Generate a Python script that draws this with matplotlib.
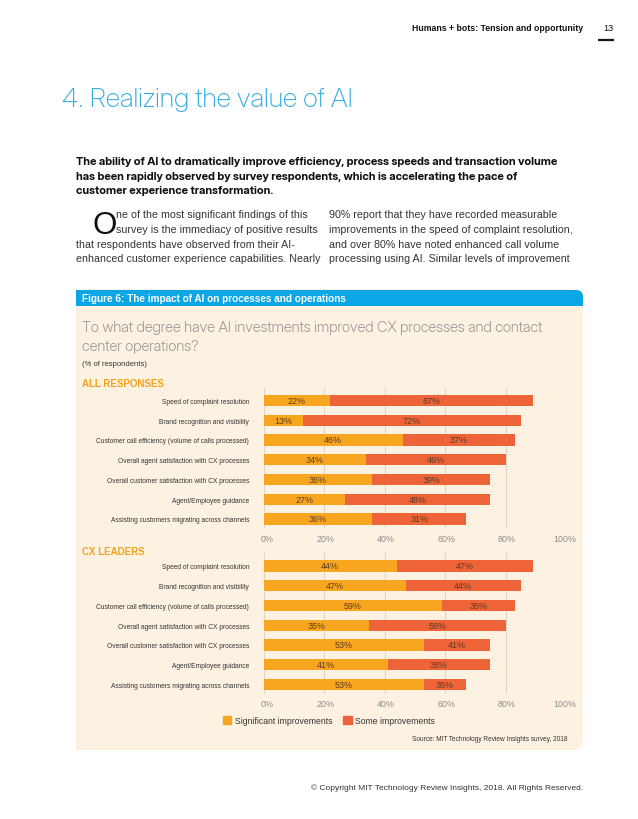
import matplotlib
matplotlib.use("Agg")
import matplotlib.pyplot as plt
import matplotlib.transforms as mtransforms
from matplotlib.patches import Rectangle, FancyBboxPatch
from matplotlib.patches import Patch

# ---------------- data ----------------
categories = [
    "Speed of complaint resolution",
    "Brand recognition and visibility",
    "Customer call efficiency (volume of calls processed)",
    "Overall agent satisfaction with CX processes",
    "Overall customer satisfaction with CX processes",
    "Agent/Employee guidance",
    "Assisting customers migrating across channels",
]
all_significant = [22, 13, 46, 34, 36, 27, 36]
all_some = [67, 72, 37, 46, 39, 48, 31]
cx_significant = [44, 47, 59, 35, 53, 41, 53]
cx_some = [47, 44, 35, 56, 41, 38, 35]            # printed labels
cx_some_drawn = [45, 38, 24, 45, 22, 34, 14]      # red bar lengths as drawn in the source
x_ticks = [0, 20, 40, 60, 80, 100]
x_tick_labels = ["0%", "20%", "40%", "60%", "80%", "100%"]
series_names = ["Significant improvements", "Some improvements"]

# ---------------- style ----------------
C_SIG = "#f8a61f"
C_SOME = "#ef6339"
C_CREAM = "#fdf2e2"
C_BLUE = "#0aa6e6"
C_TITLE = "#33ace0"
C_LABEL = "#5a3d25"
SANS = ["Liberation Sans", "DejaVu Sans"]
DISP = ["Inter Display", "Inter", "DejaVu Sans"]

W, H = 638, 820
fig = plt.figure(figsize=(W / 100, H / 100), dpi=100)
fig.patch.set_facecolor("white")

bg = fig.add_axes([0, 0, 1, 1])
bg.set_xlim(0, W)
bg.set_ylim(H, 0)
bg.axis("off")

# header
bg.text(583, 31, "Humans + bots: Tension and opportunity", ha="right", va="baseline",
        fontsize=6.3, fontweight="bold", family=SANS, color="#111111")
bg.text(613, 31, "13", ha="right", va="baseline", fontsize=6.6, family=SANS, color="#111111")
bg.plot([598, 614], [40.5, 40.5], color="#111111", lw=1.6, solid_capstyle="butt")

# title
bg.text(62, 107, "4. Realizing the value of AI", ha="left", va="baseline",
        fontsize=19.5, fontweight=200, family=DISP, color=C_TITLE)

# lead paragraph
lead = ["The ability of AI to dramatically improve efficiency, process speeds and transaction volume",
        "has been rapidly observed by survey respondents, which is accelerating the pace of",
        "customer experience transformation."]
for i, l in enumerate(lead):
    bg.text(76, 165 + i * 14.5, l, ha="left", va="baseline", fontsize=8.2,
            fontweight="bold", family=DISP, color="#111111")

# body columns
left_col = ["ne of the most significant findings of this",
            "survey is the immediacy of positive results",
            "that respondents have observed from their AI-",
            "enhanced customer experience capabilities. Nearly"]
right_col = ["90% report that they have recorded measurable",
             "improvements in the speed of complaint resolution,",
             "and over 80% have noted enhanced call volume",
             "processing using AI. Similar levels of improvement"]
bg.text(93, 233.5, "O", ha="left", va="baseline", fontsize=22.5, family=SANS, color="#111111")
for i, l in enumerate(left_col):
    x0 = 116.5 if i < 2 else 76
    bg.text(x0, 218.5 + i * 14.5, l, ha="left", va="baseline", fontsize=7.7, family=SANS, color="#333333")
for i, l in enumerate(right_col):
    bg.text(329, 218.5 + i * 14.5, l, ha="left", va="baseline", fontsize=7.7, family=SANS, color="#333333")

# figure panel: blue header with rounded top-right, cream body with rounded bottom-right
bg.add_patch(FancyBboxPatch((76, 290), 507, 461, boxstyle="round,pad=0,rounding_size=11",
                            fc=C_CREAM, ec="none", zorder=1.1))
bg.add_patch(Rectangle((76, 307), 507, 420, fc=C_CREAM, ec="none", zorder=1.2))
bg.add_patch(Rectangle((76, 307), 480, 444, fc=C_CREAM, ec="none", zorder=1.2))
bg.add_patch(FancyBboxPatch((76, 291), 507, 16, boxstyle="round,pad=0,rounding_size=7",
                            fc=C_BLUE, ec="none", zorder=1.25))
bg.add_patch(Rectangle((76, 291), 480, 16, fc=C_BLUE, ec="none", zorder=1.3))
bg.add_patch(Rectangle((560, 299), 23, 8, fc=C_BLUE, ec="none", zorder=1.3))

bg.text(82, 299.5, "Figure 6: The impact of AI on processes and operations", ha="left", va="center",
        fontsize=7.2, fontweight="bold", family=SANS, color="white", zorder=3)
bg.text(82, 332, "To what degree have AI investments improved CX processes and contact",
        ha="left", va="baseline", fontsize=10.7, fontweight=300, family=DISP, color="#9a9a9a", zorder=3)
bg.text(82, 351, "center operations?", ha="left", va="baseline", fontsize=10.7, fontweight=300,
        family=DISP, color="#9a9a9a", zorder=3)
bg.text(82, 365, "(% of respondents)", ha="left", va="center", fontsize=5.5, family=SANS,
        color="#333333", zorder=3)
bg.text(82, 384, "ALL RESPONSES", ha="left", va="center", fontsize=7.0, fontweight="bold",
        family=SANS, color="#f4a21b", zorder=3)
bg.text(82, 552, "CX LEADERS", ha="left", va="center", fontsize=7.0, fontweight="bold",
        family=SANS, color="#f4a21b", zorder=3)
bg.text(568, 740, "Source: MIT Technology Review Insights survey, 2018", ha="right", va="center",
        fontsize=4.7, family=SANS, color="#333333", zorder=3)
bg.text(583, 788, "\u00a9 Copyright MIT Technology Review Insights, 2018. All Rights Reserved.",
        ha="right", va="center", fontsize=6.0, family=SANS, color="#333333", zorder=3)


def draw_chart(top_px, sig, some_len, some_lab):
    left = 263.5
    width = 302.5
    height = 140.5
    ax = fig.add_axes([left / W, 1 - (top_px + height) / H, width / W, height / H])
    ax.set_facecolor("none")
    y = list(range(len(categories)))
    ax.barh(y, sig, height=0.58, color=C_SIG, zorder=2)
    ax.barh(y, some_len, left=sig, height=0.58, color=C_SOME, zorder=2)
    for i in y:
        ax.text(sig[i] / 2, i, f"{sig[i]}%", ha="center", va="center", fontsize=6.4,
                family=SANS, color=C_LABEL, zorder=3)
        ax.text(sig[i] + some_len[i] / 2, i, f"{some_lab[i]}%", ha="center", va="center",
                fontsize=6.4, family=SANS, color=C_LABEL, zorder=3)
    ax.set_xlim(0, 100)
    ax.set_ylim(6.456, -0.658)
    ax.set_xticks(x_ticks)
    ax.set_xticklabels([])
    # x labels: right-aligned a little to the right of each gridline, as in the source
    shift = mtransforms.ScaledTranslation(10.5 / 100, -10.5 / 100, fig.dpi_scale_trans)
    for xv, lab in zip(x_ticks, x_tick_labels):
        ax.text(xv, 0, lab, transform=ax.get_xaxis_transform() + shift, ha="right", va="center",
                fontsize=6.4, family=SANS, color="#8c8c8c", clip_on=False)
    ax.set_yticks(y)
    ax.set_yticklabels(categories, fontsize=4.8, family=SANS, color="#333333")
    ax.tick_params(axis="x", length=0, pad=0)
    ax.tick_params(axis="y", length=0, pad=10.4)
    for s in ax.spines.values():
        s.set_visible(False)
    ax.grid(axis="x", color="#ddd6cb", lw=0.8, zorder=0)
    ax.set_axisbelow(True)
    return ax


draw_chart(388.5, all_significant, all_some, all_some)
draw_chart(554.0, cx_significant, cx_some_drawn, cx_some)

handles = [Patch(color=C_SIG), Patch(color=C_SOME)]
leg = fig.legend(handles, series_names, loc="center", bbox_to_anchor=(329 / W, 1 - 721.5 / H),
                 ncol=2, frameon=False, handlelength=0.95, handleheight=0.95,
                 handletextpad=0.45, columnspacing=1.3, borderaxespad=0, borderpad=0,
                 prop={"family": SANS, "size": 6.2})
for t in leg.get_texts():
    t.set_color("#333333")

fig.savefig("out.png", dpi=100, facecolor="white")
